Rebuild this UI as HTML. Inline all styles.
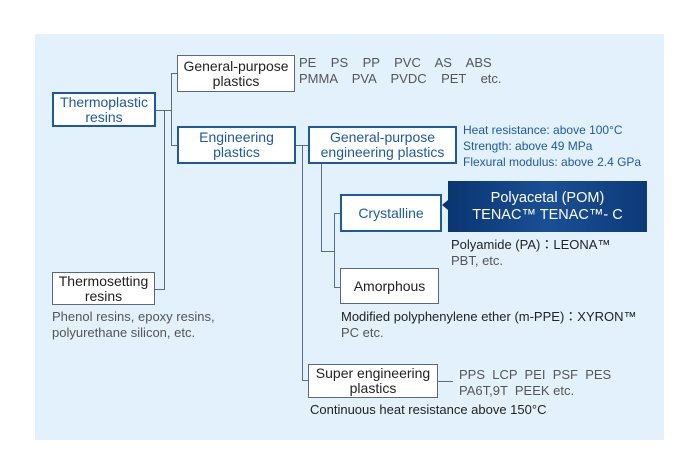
<!DOCTYPE html>
<html><head><meta charset="utf-8"><style>
body{margin:0;width:700px;height:476px;background:#fff;position:relative;overflow:hidden;font-family:"Liberation Sans","Noto Sans CJK JP",sans-serif;}
.bg{position:absolute;left:35px;top:34px;width:629px;height:406px;background:#e3f1fc;}
.b{position:absolute;box-sizing:border-box;background:#fff;border:1px solid #5a6a7a;color:#222;font-size:14px;line-height:15px;text-align:center;display:flex;align-items:center;justify-content:center;white-space:nowrap;}
.blue{border:2px solid #1c5aa6;color:#1c5aa6;}
.t{position:absolute;font-size:12.5px;line-height:16px;color:#555;white-space:pre;}
.l{position:absolute;background:#5a6e82;}
</style></head><body>
<div class="bg"></div>
<div class="l" style="left:156px;top:110px;width:15px;height:1px"></div>
<div class="l" style="left:171px;top:73px;width:1px;height:73px"></div>
<div class="l" style="left:171px;top:73px;width:6px;height:1px"></div>
<div class="l" style="left:171px;top:145px;width:6px;height:1px"></div>
<div class="l" style="left:164px;top:110px;width:1px;height:180px"></div>
<div class="l" style="left:155px;top:289px;width:10px;height:1px"></div>
<div class="l" style="left:296px;top:145px;width:12px;height:1px"></div>
<div class="l" style="left:302px;top:145px;width:1px;height:236px"></div>
<div class="l" style="left:302px;top:380px;width:6px;height:1px"></div>
<div class="l" style="left:321px;top:164px;width:1px;height:88px"></div>
<div class="l" style="left:321px;top:251px;width:13px;height:1px"></div>
<div class="l" style="left:334px;top:213px;width:1px;height:75px"></div>
<div class="l" style="left:334px;top:213px;width:6px;height:1px"></div>
<div class="l" style="left:334px;top:287px;width:6px;height:1px"></div>
<div class="l" style="left:438px;top:381px;width:15px;height:1px"></div>
<div class="b blue" style="left:52px;top:92px;width:104px;height:35px">Thermoplastic<br>resins</div>
<div class="b" style="left:177px;top:55px;width:118px;height:37px">General-purpose<br>plastics</div>
<div class="b blue" style="left:177px;top:126px;width:119px;height:38px">Engineering<br>plastics</div>
<div class="b blue" style="left:308px;top:126px;width:149px;height:38px">General-purpose<br>engineering plastics</div>
<div class="b blue" style="left:340px;top:194px;width:102px;height:38px">Crystalline</div>
<div class="b" style="left:340px;top:268px;width:99px;height:36px">Amorphous</div>
<div class="b" style="left:308px;top:364px;width:130px;height:34px">Super engineering<br>plastics</div>
<div class="b" style="left:52px;top:272px;width:103px;height:33px">Thermosetting<br>resins</div>
<div style="position:absolute;left:448px;top:181px;width:199px;height:51px;background:linear-gradient(90deg,#0a3570,#1a4f96 50%,#0c3a78);color:#fff;font-size:14.5px;line-height:17px;text-align:center;display:flex;align-items:center;justify-content:center">Polyacetal (POM)<br>TENAC™ TENAC™- C</div>
<div style="position:absolute;left:442px;top:200px;width:0;height:0;border-top:5px solid transparent;border-bottom:5px solid transparent;border-right:6px solid #0a3570"></div>
<div class="t" style="left:299px;top:55px;font-size:13px">PE    PS    PP    PVC    AS    ABS
PMMA    PVA    PVDC    PET    etc.</div>
<div class="t" style="left:463px;top:122px;color:#1c5aa6;font-size:12px">Heat resistance: above 100°C
Strength: above 49 MPa
Flexural modulus: above 2.4 GPa</div>
<div class="t" style="left:451px;top:237px;font-size:13px"><span style="color:#222">Polyamide (PA)：LEONA™</span>
PBT, etc.</div>
<div class="t" style="left:341px;top:309px;font-size:13px"><span style="color:#222">Modified polyphenylene ether (m-PPE)：XYRON™</span>
PC etc.</div>
<div class="t" style="left:459px;top:367px;font-size:13px">PPS  LCP  PEI  PSF  PES
PA6T,9T  PEEK etc.</div>
<div class="t" style="left:310px;top:402px;color:#222;font-size:13px">Continuous heat resistance above 150°C</div>
<div class="t" style="left:52px;top:309px;font-size:13px">Phenol resins, epoxy resins,
polyurethane silicon, etc.</div>
</body></html>
